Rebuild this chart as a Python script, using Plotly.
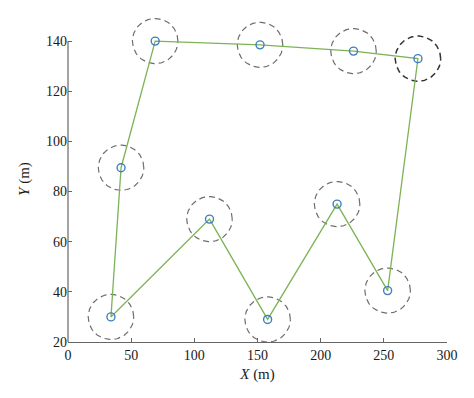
import numpy as np
import plotly.graph_objects as go

# Node positions (m), in visiting order
node_x = [34, 42, 69, 152, 226, 277, 253, 213, 158, 112]
node_y = [30, 89.5, 140, 138.5, 136, 133, 40.5, 75, 29, 69]
# circle darkness flag (one darker circle)
dark = [False, False, False, False, False, True, False, False, False, False]

x_ticks = [0, 50, 100, 150, 200, 250, 300]
y_ticks = [20, 40, 60, 80, 100, 120, 140]

RX = 18  # circle radius in x units
RY = 9   # circle radius in y units

Y_MIN, Y_AXIS_TOP, Y_VIEW_TOP = 20, 140, 150

path_x = node_x + [node_x[0]]
path_y = node_y + [node_y[0]]

fig = go.Figure()

t = np.linspace(0, 2 * np.pi, 121)
for x, y, d in zip(node_x, node_y, dark):
    fig.add_trace(go.Scatter(
        x=x + RX * np.cos(t), y=y + RY * np.sin(t), mode="lines",
        line=dict(color="#333333" if d else "#6e6e6e",
                  width=1.5 if d else 1.2, dash="6px,4px"),
        hoverinfo="skip", showlegend=False))

fig.add_trace(go.Scatter(x=path_x, y=path_y, mode="lines",
                         line=dict(color="#7db356", width=1.3),
                         hoverinfo="skip", showlegend=False))
fig.add_trace(go.Scatter(x=node_x, y=node_y, mode="markers",
                         marker=dict(symbol="circle-open", size=8,
                                     color="#3f7fc0", line=dict(width=1.4)),
                         showlegend=False, cliponaxis=False))

# y-axis line only up to the last tick
fig.add_shape(type="line", xref="paper", yref="paper", x0=0, x1=0, y0=0,
              y1=(Y_AXIS_TOP - Y_MIN) / (Y_VIEW_TOP - Y_MIN),
              line=dict(color="#666666", width=1.2))

font_family = "Liberation Serif"
fig.update_layout(
    width=474, height=398,
    margin=dict(l=68, r=27, t=16, b=56),
    plot_bgcolor="white", paper_bgcolor="white",
    font=dict(family=font_family, size=14, color="#1a1a1a"),
    xaxis=dict(range=[0, 300], tickvals=x_ticks, ticks="inside", ticklen=4,
               tickcolor="#666666", showline=True, linecolor="#666666",
               linewidth=1.2, showgrid=False, zeroline=False,
               title=dict(text="<i>X</i> (m)", standoff=6,
                          font=dict(size=15))),
    yaxis=dict(range=[Y_MIN, Y_VIEW_TOP], tickvals=y_ticks, ticks="inside",
               ticklen=4, tickcolor="#666666", showline=False,
               showgrid=False, zeroline=False,
               title=dict(text="<i>Y</i> (m)", standoff=12,
                          font=dict(size=15))),
)

fig.write_html("out.html")
